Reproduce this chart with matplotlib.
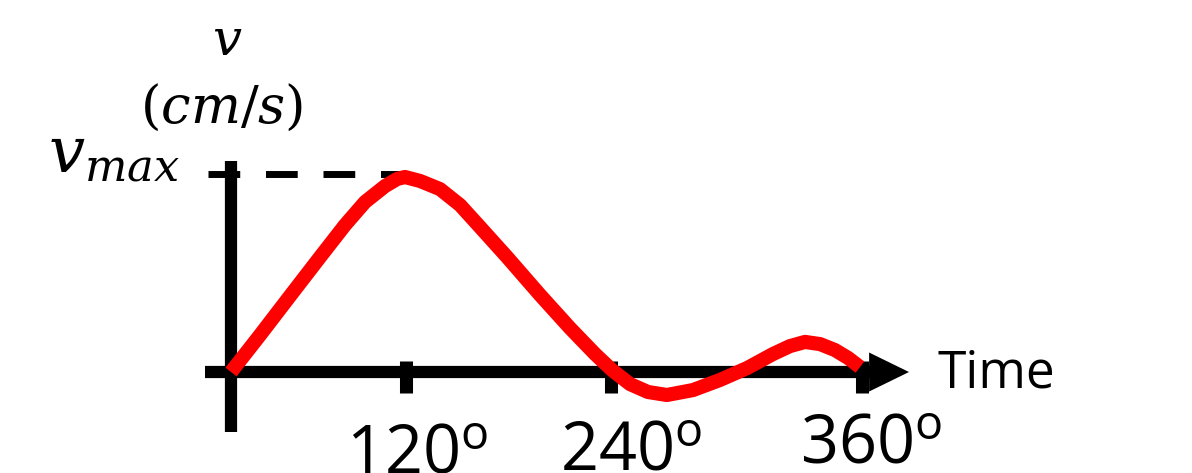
import matplotlib
matplotlib.use("Agg")
import matplotlib.pyplot as plt

plt.rcParams['mathtext.fontset'] = 'custom'
plt.rcParams['mathtext.rm'] = 'DejaVu Serif'
plt.rcParams['mathtext.it'] = 'DejaVu Serif:italic'
plt.rcParams['mathtext.sf'] = 'Open Sans'

# velocity curve (time in tick units, v in units of v_max)
time_pos = [0.0, 0.166, 0.337, 0.509, 0.651, 0.766, 0.88, 0.949, 0.994,
            1.08, 1.194, 1.309, 1.423, 1.577, 1.766, 1.937, 2.08, 2.177,
            2.28, 2.383, 2.491, 2.64, 2.794, 2.949, 3.097, 3.194, 3.28,
            3.366, 3.451, 3.526, 3.594]
velocity = [0.0, 0.187, 0.384, 0.581, 0.742, 0.859, 0.939, 0.975, 0.985,
            0.965, 0.924, 0.843, 0.732, 0.581, 0.389, 0.222, 0.091, 0.010,
            -0.061, -0.101, -0.116, -0.091, -0.040, 0.020, 0.091, 0.131, 0.152,
            0.141, 0.111, 0.071, 0.025]

tick_pos = [1.0, 2.171, 3.606]
tick_labels = ['120', '240', '360']
v_max = 1.0

fig = plt.figure(figsize=(11.92, 4.73), dpi=100)
ax = fig.add_axes([0, 0, 1, 1])
ax.set_xlim(-1.32, 5.491)
ax.set_ylim(-0.510, 1.879)
ax.axis('off')

# axes lines
ax.plot([0, 0], [-0.303, 1.066], color='black', lw=8.8, solid_capstyle='butt')
ax.plot([-0.149, 3.66], [0, 0], color='black', lw=8.8, solid_capstyle='butt')
ax.fill([3.646, 3.874, 3.646], [0.0985, 0, -0.0985], color='black', lw=0)

# x ticks
for t in tick_pos:
    ax.plot([t, t], [0.056, -0.106], color='black', lw=9.4, solid_capstyle='butt')

# v_max level
ax.plot([-0.131, tick_pos[0]], [v_max, v_max], color='black', lw=5,
        dashes=(4.57, 3.71), solid_capstyle='butt', dash_capstyle='butt')

ax.plot(time_pos, velocity, color='#ff0000', lw=10.2, solid_capstyle='butt',
        solid_joinstyle='round', zorder=5)

# labels
label_dy = [-0.51, -0.495, -0.46]
label_dx = [0.066, 0.115, 0.051]
for t, lab, dx, dy in zip(tick_pos, tick_labels, label_dx, label_dy):
    ax.text(t + dx, dy, lab + r'$^{\mathsf{o}}$', family='Open Sans',
            fontsize=48, ha='center', va='baseline')

ax.text(4.034, -0.08, 'Time', family='Open Sans', fontsize=37,
        ha='left', va='baseline')
ax.text(-0.023, 1.601, r'$v$', fontsize=37, ha='center', va='baseline')
ax.text(-0.051, 1.258, r'$(cm/s)$', fontsize=38, ha='center', va='baseline')
ax.text(-0.291, 1.005, r'$v_{max}$', fontsize=46, ha='right', va='baseline')

fig.savefig('out.png', dpi=100)
